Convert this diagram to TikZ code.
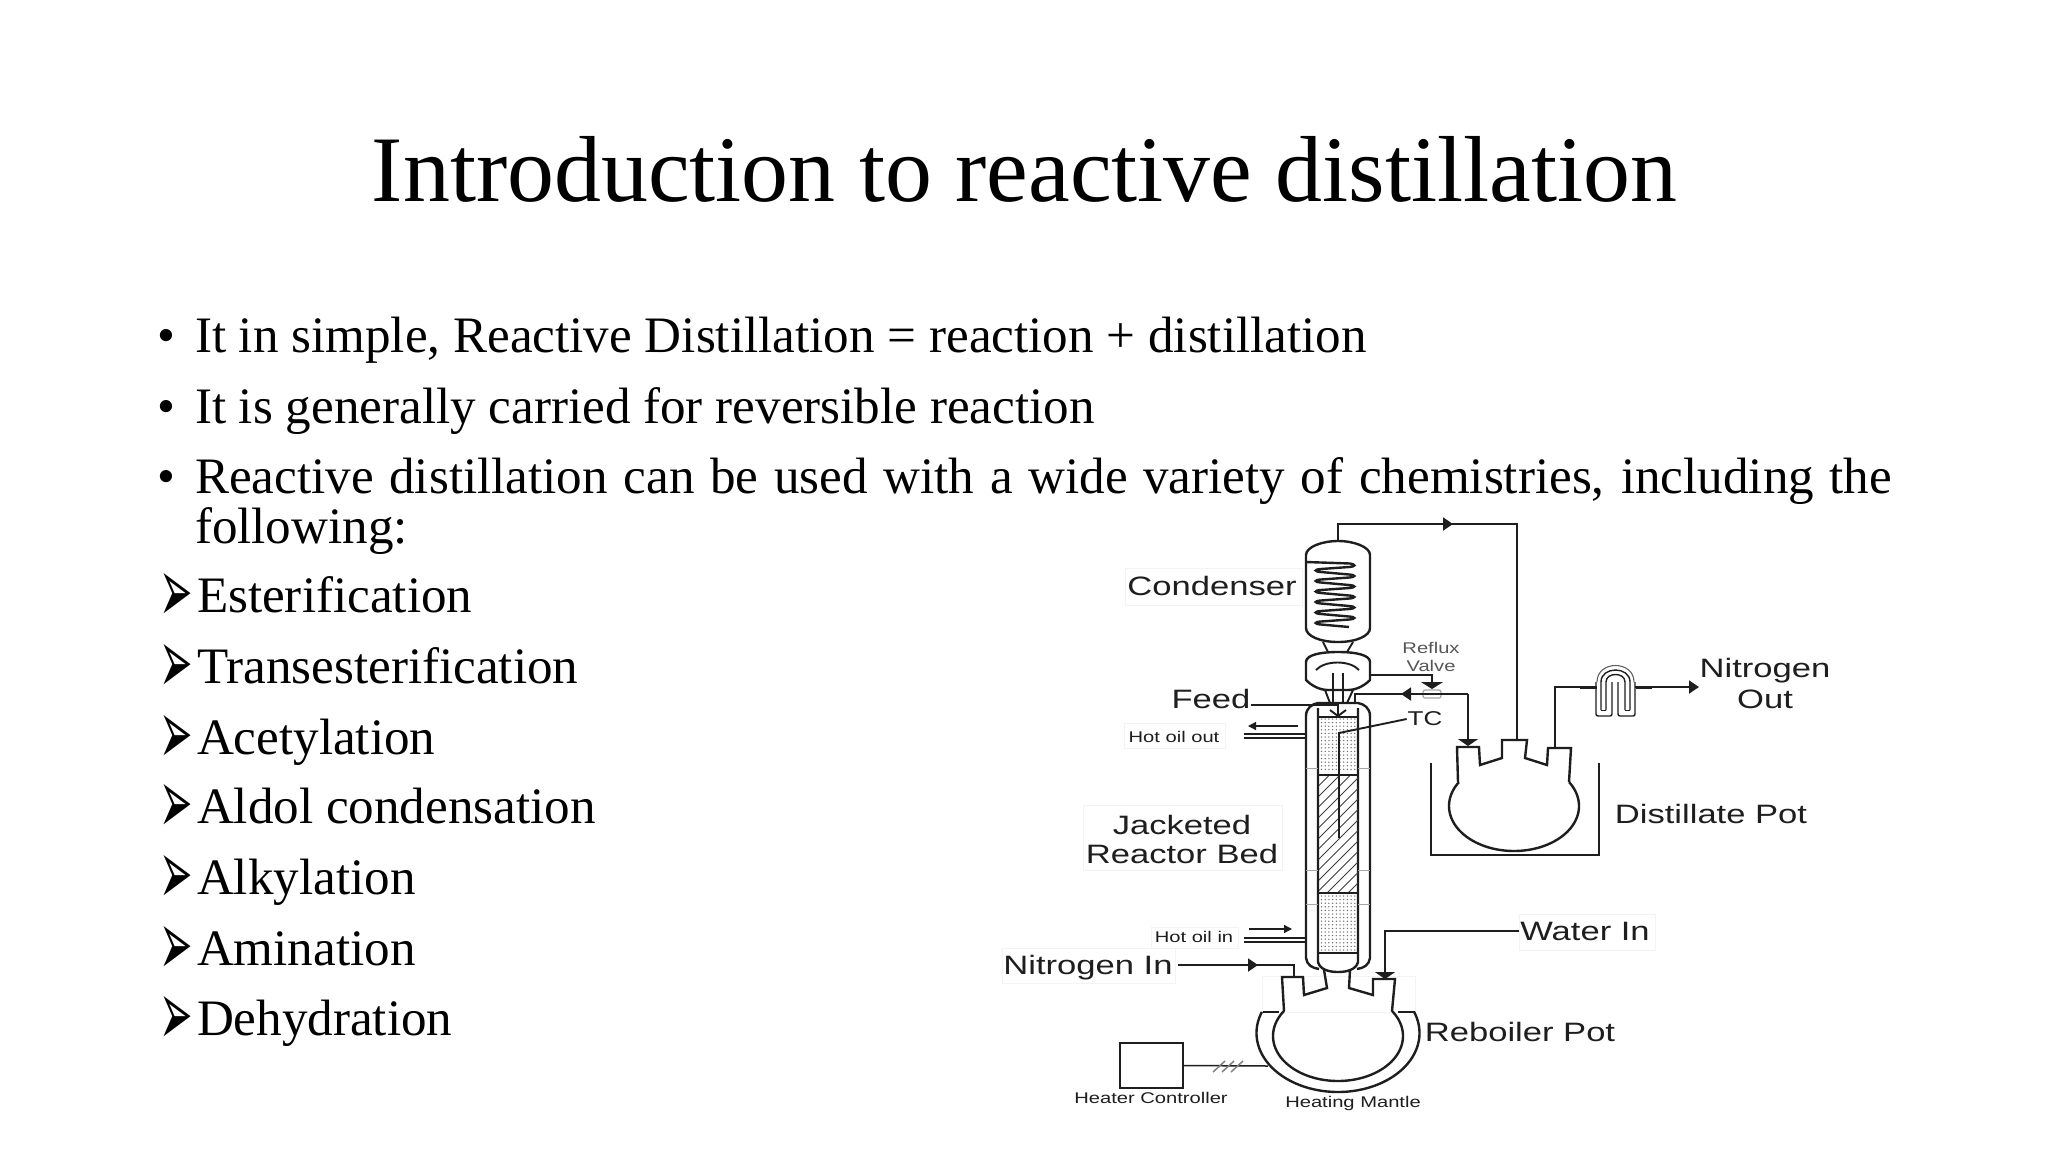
\documentclass[tikz,border=0pt]{standalone}
\usepackage{fontspec}
\usepackage{graphicx}
\setmainfont{Liberation Serif}
\newfontfamily\labfont[FakeStretch=1.3]{Liberation Sans}
\newfontfamily\symfont{DejaVu Sans}
\usetikzlibrary{arrows.meta,calc}
\definecolor{ink}{HTML}{1E1E1E}
\definecolor{pale}{HTML}{F3F3F3}
\definecolor{txt}{HTML}{000000}
\newcommand{\bodysize}{\fontsize{51.1}{51.1}\selectfont}
\newcommand{\labbig}{\fontsize{26.6}{26.6}\selectfont\labfont}
\newcommand{\labmid}{\fontsize{26.6}{26.6}\selectfont\labfont}
\newcommand{\labtc}{\fontsize{20}{20}\selectfont\labfont}
\newcommand{\labsmall}{\fontsize{15.5}{15.5}\selectfont\labfont}
\tikzset{
 x=1pt,y=-1pt,
 line join=round,
 body/.style={anchor=base west,inner sep=0pt,outer sep=0pt,text=txt,font=\bodysize},
 pipe/.style={draw=ink,line width=1.9pt},
 wall/.style={draw=ink,line width=2.4pt},
 thin pipe/.style={draw=ink,line width=1.3pt},
 faint/.style={draw=gray!70,line width=0.9pt},
 arr/.style={pipe,-{Triangle[length=10pt,width=13pt]},shorten >=-1pt},
 flat/.style={pipe,-{Triangle[length=7pt,width=20pt]},shorten >=-1pt},
 smallarr/.style={thin pipe,-{Triangle[length=8pt,width=8pt]}},
 lab/.style={inner sep=0pt,outer sep=1pt,text=ink},
 palebox/.style={draw=pale,line width=1pt,fill=white},
}
\begin{document}
\begin{tikzpicture}
\useasboundingbox (0,0) rectangle (2048,1152);
\fill[white] (0,0) rectangle (2048,1152);
% ---------- slide text
\node[anchor=base,inner sep=0pt,text=txt,font=\fontsize{93.8}{93.8}\selectfont] (title) at (1024.5,201) {Introduction to reactive distillation};
\node[body] (b1) at (157,352) {•};
\node[body] (t1) at (195,352) {It in simple, Reactive Distillation = reaction + distillation};
\node[body] (b2) at (157,423) {•};
\node[body] (t2) at (195,423) {It is generally carried for reversible reaction};
\node[body] (b3) at (157,493) {•};
\node[body] (t3) at (195,493) {\makebox[1697pt][s]{Reactive distillation can be used with a wide variety of chemistries, including the}};
\node[body] (t3b) at (195,543) {following:};
\foreach \n/\y/\w in {e/612/Esterification,f/683/Transesterification,g/754/Acetylation,h/823/Aldol condensation,i/894/Alkylation,j/965/Amination,k/1035/Dehydration}{
  \node[body,font=\fontsize{40}{40}\selectfont\symfont] (s\n) at (159,\y+10) {\scalebox{1}[2.3]{➢}};
  \node[body] (w\n) at (197,\y) {\w};
}
% ---------- faint paste boxes
\draw[palebox] (1125,568) rectangle (1302,605);
\draw[palebox] (1124,723) rectangle (1225,748);
\draw[palebox] (1083,805) rectangle (1282,870);
\draw[palebox] (1151,927) rectangle (1238,948);
\draw[palebox] (1002,948) rectangle (1175,983);
\draw[palebox] (1519,914) rectangle (1655,950);
\draw[palebox] (1262,976) rectangle (1415,1012);
% ---------- labels
\node[lab,font=\labbig] (condenser) at (1212,586) {Condenser};
\node[lab,font=\labbig] (feed) at (1211,699) {Feed};
\node[lab,font=\labsmall] (hotout) at (1174,737) {Hot oil out};
\node[lab,font=\labsmall,text=ink!75] (reflux) at (1431,648) {Reflux};
\node[lab,font=\labsmall,text=ink!75] (valve) at (1431,666) {Valve};
\node[lab,font=\labtc] (tc) at (1425,719) {TC};
\node[lab,font=\labmid] (jack) at (1182,825) {Jacketed};
\node[lab,font=\labmid] (react) at (1182,854) {Reactor Bed};
\node[lab,font=\labsmall] (hotin) at (1194,937) {Hot oil in};
\node[lab,font=\labbig] (nin) at (1088,968) {Nitrogen In};
\node[lab,font=\labbig] (water) at (1585,931) {Water In};
\node[lab,font=\labbig] (nout) at (1765,671) {Nitrogen};
\node[lab,font=\labbig] (out) at (1765,699) {Out};
\node[lab,font=\labmid] (dist) at (1711,814) {Distillate Pot};
\node[lab,font=\labmid] (rebl) at (1520,1032) {Reboiler Pot};
\node[lab,font=\labsmall] (hctl) at (1151,1098) {Heater Controller};
\node[lab,font=\labsmall] (hman) at (1353,1103) {Heating Mantle};
% ---------- condenser
\draw[wall] (1338,541) .. controls (1322,541) and (1306,547) .. (1306,555) -- (1306,628)
  .. controls (1306,636) and (1320,642) .. (1338,642)
  .. controls (1356,642) and (1370,636) .. (1370,628) -- (1370,555)
  .. controls (1370,547) and (1354,541) .. (1338,541) -- cycle;
\draw[draw=ink,line width=2.4pt] (1306,562) -- (1350,563.5)
  \foreach \yy in {564,574.5,585,595.5,606,616.5}{
    .. controls (1356,\yy+.5) and (1356,\yy+2.5) .. (1349,\yy+3) -- (1321,\yy+5)
    .. controls (1314,\yy+5.5) and (1314,\yy+7.5) .. (1321,\yy+8) -- (1349,\yy+10.5)
  };
% neck, head
\draw[pipe] (1323,642) -- (1328,652) (1353,642) -- (1347,652);
\draw[wall] (1338,652) .. controls (1320,652) and (1306,655) .. (1306,662) -- (1306,680)
  .. controls (1312,686) and (1320,690) .. (1328,690) -- (1348,690)
  .. controls (1356,690) and (1364,686) .. (1370,680) -- (1370,662)
  .. controls (1370,655) and (1356,652) .. (1338,652) -- cycle;
\draw[pipe] (1316,670) .. controls (1325,660) and (1350,660) .. (1359,670);
\draw[pipe] (1333,673) -- (1333,703) (1343,673) -- (1343,703);
\draw[pipe] (1325,690) -- (1330,703) (1353,690) -- (1347,703);
% ---------- column
\draw[wall] (1338,703) -- (1318,703) .. controls (1312,704) and (1306,708) .. (1306,716) -- (1306,958)
  .. controls (1307,965) and (1312,968) .. (1319,969);
\draw[wall] (1338,703) -- (1358,703) .. controls (1364,704) and (1370,708) .. (1370,716) -- (1370,958)
  .. controls (1369,965) and (1364,968) .. (1357,969);
\draw[wall] (1318,708) -- (1318,962) .. controls (1320,970) and (1330,972) .. (1338,972)
  .. controls (1346,972) and (1356,970) .. (1358,962) -- (1358,708);
% packing dots
\foreach \ya/\yb in {719/773,896/952}{
  \pgfmathsetmacro{\ysec}{\ya+3.6}
  \foreach \yy in {\ya,\ysec,...,\yb}{
    \foreach \xx in {1321.5,1325.2,...,1356}{
      \fill[ink!65] (\xx,\yy) circle[radius=0.75pt];
    }
  }
}
% hatch
\begin{scope}
\clip (1319,775) rectangle (1358,893);
\foreach \k in {0,1,...,15}{
  \draw[draw=ink!85,line width=1pt] ({1201+\k*10.5},893) -- ++(140,-140);
}
\end{scope}
% section lines
\draw[wall] (1318,717) -- (1358,717);
\draw[wall,line width=2.5pt] (1318,775) -- (1358,775);
\draw[wall,line width=2.5pt] (1318,893) -- (1358,893);
\draw[wall] (1318,953) -- (1358,953);
\foreach \yy in {768,870,904}{
  \draw[faint] (1306,\yy) -- (1318,\yy) (1358,\yy) -- (1370,\yy);
}
% thermocouple
\coordinate (tcb) at (1339,733);
\draw[pipe] (1339,838) -- (tcb) -- (tc.west);
% feed
\coordinate (feedtop) at (1338,705);
\draw[pipe] (feed.east |- feedtop) -- (feedtop) -- (1338,716);
\draw[pipe] (1330,710) -- (1338,716) -- (1346,710);
% hot oil out / in
\coordinate (oa) at (1298,726);
\coordinate (ob) at (1248,726);
\draw[smallarr] (oa) -- (ob);
\draw[thin pipe] (1244,734) -- (1306,734) (1244,738) -- (1306,738);
\coordinate (ia) at (1249,929);
\coordinate (ib) at (1292,929);
\draw[smallarr] (ia) -- (ib);
\draw[thin pipe] (1244,938) -- (1306,938) (1244,942) -- (1306,942);
% top line to distillate pot
\coordinate (cT) at (1338,541);
\coordinate (cU) at (1338,524);
\coordinate (cV) at (1452,524);
\coordinate (cW) at (1517,524);
\coordinate (cX) at (1517,740);
\draw[arr] (cT) -- (cU) -- (cV);
\draw[pipe] (cV) -- (cW) -- (cX);
% reflux
\coordinate (ra) at (1370,675);
\coordinate (rb) at (1432,675);
\coordinate (rc) at (1432,689);
\draw[pipe] (ra) -- (rb) -- (1432,684);
\fill[ink] (1421,682) -- (1443,682) -- (1432,689) -- cycle;
\coordinate (vl) at (1402,694);
\coordinate (vr) at (1468,694);
\draw[faint,line width=1.2pt,rounded corners=2pt] (1423,690) rectangle (1441,698);
\draw[arr] (vr) -- (vl);
\draw[pipe] (vl) -- (1355,694) -- (1355,702);
\draw[flat] (vr) -- (1468,745);
% ---------- distillate flask
\draw[wall] plot[domain=32:-212,samples=80] ({1514+65*cos(\x)},{806-45*sin(\x)});
\draw[wall] (1458,782) -- (1457,747) -- (1479,747) -- (1480,765) -- (1502,758) -- (1502,740) -- (1527,740) -- (1525,758) -- (1547,765) -- (1548,748) -- (1571,748) -- (1569,782);
% bath
\draw[pipe] (1431,763) -- (1431,855) -- (1599,855) -- (1599,763);
% ---------- nitrogen out and bubbler
\coordinate (na) at (1555,748);
\coordinate (nb) at (1555,687);
\coordinate (nc) at (1597,687);
\coordinate (nd) at (1635,687);
\coordinate (ne) at (1698,687);
\draw[pipe] (na) -- (nb) -- (nc);
\draw[arr] (nd) -- (ne);
\draw[draw=ink,line width=3pt] (1580,687) -- (1597,687) (1636,687) -- (1652,687);
\draw[draw=ink,line width=1.4pt,rounded corners=2pt] (1596,682) -- (1596,716) -- (1612,716) -- (1612,682);
\draw[draw=ink,line width=1.4pt,rounded corners=2pt] (1618,682) -- (1618,716) -- (1635,716) -- (1635,682);
\draw[draw=ink,line width=1.4pt] (1601,710) -- (1601,682) .. controls (1601,666) and (1630,666) .. (1630,682) -- (1630,710);
\draw[draw=ink,line width=1.4pt] (1606,710) -- (1606,682) .. controls (1606,672) and (1625,672) .. (1625,682) -- (1625,710);
\draw[draw=ink,line width=1pt] (1601,710) -- (1606,710) (1625,710) -- (1630,710);
\draw[draw=ink!70,line width=1.1pt] (1597,682) .. controls (1597,660) and (1634,660) .. (1634,682);
% ---------- nitrogen in
\coordinate (nia) at (1178,965);
\coordinate (nib) at (1257,965);
\coordinate (nic) at (1294,965);
\coordinate (nid) at (1294,977);
\draw[arr] (nia) -- (nib);
\draw[pipe] (nib) -- (nic) -- (nid);
% water in
\coordinate (wc) at (1385,931);
\draw[pipe] (water.west) -- (wc) -- (1385,972);
\draw[flat] (1385,960) -- (1385,978);
% ---------- reboiler flask
\draw[wall] plot[domain=34:-214,samples=80] ({1338+65*cos(\x)},{1036-45*sin(\x)});
\draw[wall] (1284,1011) -- (1282,977) -- (1303,977) -- (1304,995) -- (1327,988) -- (1324,970)
 (1350,970) -- (1349,988) -- (1373,995) -- (1373,979) -- (1395,979) -- (1392,1011);
% mantle
\draw[wall] (1279,1012) -- (1263,1012);
\draw[wall] plot[domain=159:381,samples=90] ({1338+81.5*cos(\x)},{1033+59*sin(\x-180)});
\draw[wall] (1415,1012) -- (1398,1012);
% heater
\node[draw=ink,line width=1.5pt,minimum width=63pt,minimum height=45pt,inner sep=0pt,outer sep=0pt] (heater) at (1151.5,1065.5) {};
\coordinate (hm) at (1268,1066);
\draw[draw=ink,line width=1.5pt] (heater.east) -- (hm);
\foreach \xx in {1213,1222,1231}{
  \draw[draw=gray,line width=1.5pt] (\xx,1072) -- ++(12,-11);
}
\end{tikzpicture}
\end{document}
